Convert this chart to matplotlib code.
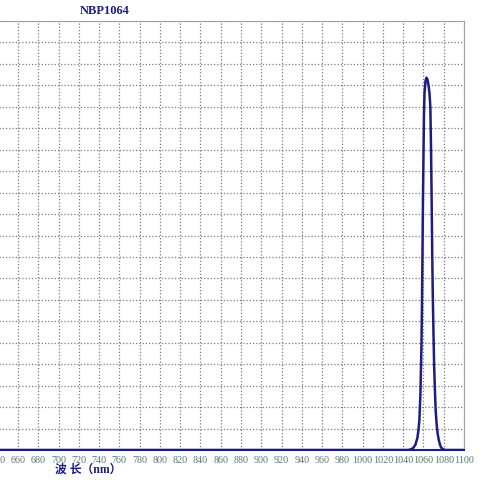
import matplotlib
matplotlib.use("Agg")
import matplotlib.pyplot as plt

# transmission curve (wavelength nm, transmission %)
wavelength = [640, 1045, 1048, 1050, 1052, 1054, 1055, 1056, 1057, 1058, 1058.5, 1059,
              1059.5, 1060, 1060.5, 1061, 1062, 1063, 1064, 1065, 1066, 1066.8, 1067.5,
              1068, 1068.7, 1069.2, 1070, 1070.5, 1071.3, 1072, 1073, 1074, 1075, 1076,
              1077, 1078, 1080, 1082, 1100]
transmission = [0, 0, 0.2, 0.5, 1.2, 2.8, 4.5, 7, 13, 24, 33, 45,
                58, 68, 78, 83, 86, 86.8, 86.3, 85, 83, 80, 70,
                60, 45, 36, 26, 20, 14, 9.5, 6, 3.8, 2.5, 1.5,
                0.8, 0.4, 0.1, 0, 0]

x_ticks = list(range(640, 1101, 20))
y_grid = list(range(0, 101, 5))

LINE_COLOR = '#1c1c82'
TICK_COLOR = '#557a6c'
GRID_COLOR = '#7a7a7a'

fig = plt.figure(figsize=(4.8, 4.8), dpi=100)
fig.set_facecolor("white")
ax = fig.add_axes([-2.3 / 480, 30 / 480, 466.3 / 480, 429 / 480])

ax.plot(wavelength, transmission, color=LINE_COLOR, linewidth=1.8, zorder=3)
ax.set_xlim(640, 1100)
ax.set_ylim(0, 100)

ax.set_xticks(x_ticks)
ax.set_xticklabels([str(t) for t in x_ticks], fontsize=7.3, color=TICK_COLOR,
                   family='Liberation Serif')
ax.set_yticks(y_grid)
ax.set_yticklabels([])
ax.tick_params(axis='both', length=0, pad=4)
ax.grid(True, color=GRID_COLOR, linestyle=(0, (1.0, 1.6)), linewidth=0.9)

for side in ['top', 'right', 'left']:
    ax.spines[side].set_color('#a0a0a0')
    ax.spines[side].set_linewidth(0.8)
ax.spines['bottom'].set_color(LINE_COLOR)
ax.spines['bottom'].set_linewidth(1.5)

fig.text(105 / 480, 1 - 11 / 480, "NBP1064", ha='center', va='center', fontsize=9,
         fontweight='bold', color=LINE_COLOR, family='Liberation Serif')
fig.text(88 / 480, 1 - 470 / 480, "波 长（nm）", ha='center', va='center', fontsize=8.5,
         fontweight='bold', color=LINE_COLOR, family=['Liberation Serif', 'Noto Sans CJK SC'])

fig.savefig("out.png", dpi=100)
